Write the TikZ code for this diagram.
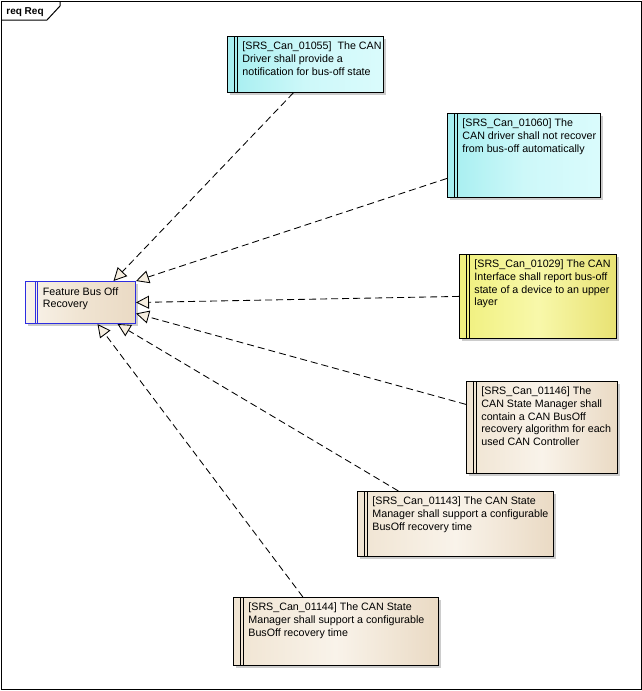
\documentclass[tikz,border=0pt]{standalone}
\usepackage{fontspec}
\setmainfont{Liberation Sans}
\usetikzlibrary{arrows.meta}
\definecolor{cyL}{RGB}{165,238,240}
\definecolor{cyM}{RGB}{205,248,249}
\definecolor{cyR}{RGB}{218,251,252}
\definecolor{geL}{RGB}{240,240,125}
\definecolor{geM}{RGB}{248,248,170}
\definecolor{geR}{RGB}{232,226,115}
\definecolor{beL}{RGB}{240,228,210}
\definecolor{beM}{RGB}{249,243,234}
\definecolor{beR}{RGB}{234,218,196}
\definecolor{tipfill}{RGB}{246,238,224}
\definecolor{featblue}{RGB}{45,45,225}
\tikzset{
  reqtext/.style={anchor=north west,inner sep=0pt,align=left,
    font=\fontsize{10.7}{12.7}\selectfont},
  trace/.style={->,dash pattern=on 7pt off 4pt,line width=0.85pt}
}
\def\anf#1#2#3#4#5#6#7{
\fill[color=gray!40] ({#2+3},{#3+3}) rectangle ++(#4,#5);
\node[draw,rectangle,anchor=north west,inner sep=0pt,
  minimum width=#4pt,minimum height=#5pt,
  left color=#6L,right color=#6R,middle color=#6M] (#1) at (#2,#3) {};
\draw ([xshift=7pt]#1.north west) -- ([xshift=7pt]#1.south west);
\draw ([xshift=10pt]#1.north west) -- ([xshift=10pt]#1.south west);
\node[reqtext] (#1t) at ([xshift=15pt,yshift=-5.5pt]#1.north west) {#7};
}

\begin{document}
\begin{tikzpicture}[x=1pt,y=-1pt,thick,
  >={Triangle[length=13pt,width=13pt,fill=tipfill,line width=0.85pt]}]
\useasboundingbox (0,0) rectangle (642,691);
\fill[white] (0,0) rectangle (642,691);
\draw[line width=1pt] (1,1) rectangle (641,689);
\draw[line width=1pt] (1,20) -- (47,20) -- (60,6) -- (60,1);
\node[font=\bfseries\fontsize{10}{12}\selectfont,anchor=base west,inner sep=0pt]
  (titel) at (6,14) {req Req};

\fill[color=gray!40] (28,284) rectangle ++(110,42);
\node[draw=featblue,line width=1pt,rectangle,anchor=north west,inner sep=0pt,
  minimum width=110pt,minimum height=42pt,
  left color=beM,right color=beR,middle color=beL] (feat) at (25,281) {};
\draw[featblue] ([xshift=10pt]feat.north west) -- ([xshift=10pt]feat.south west);
\draw[featblue] ([xshift=12pt]feat.north west) -- ([xshift=12pt]feat.south west);
\node[reqtext] (featt) at ([xshift=17.5pt,yshift=-6pt]feat.north west)
  {Feature Bus Off\\Recovery};

\anf{r1055}{227}{36}{156}{56}{cy}{[SRS\_Can\_01055]\ \ The CAN\\Driver shall provide a\\notification for bus-off state}
\anf{r1060}{447}{113}{153}{84}{cy}{[SRS\_Can\_01060] The\\CAN driver shall not recover\\from bus-off automatically}
\anf{r1029}{459}{254}{157}{84}{ge}{[SRS\_Can\_01029] The CAN\\Interface shall report bus-off\\state of a device to an upper\\layer}
\anf{r1146}{466}{381}{151}{92}{be}{[SRS\_Can\_01146] The\\CAN State Manager shall\\contain a CAN BusOff\\recovery algorithm for each\\used CAN Controller}
\anf{r1143}{357}{491}{196}{65}{be}{[SRS\_Can\_01143] The CAN State\\Manager shall support a configurable\\BusOff recovery time}
\anf{r1144}{233}{597}{205}{68}{be}{[SRS\_Can\_01144] The CAN State\\Manager shall support a configurable\\BusOff recovery time}

\draw[trace] ([xshift=-12pt]r1055.south) -- ([xshift=33pt]feat.north);
\draw[trace] ([yshift=-23pt]r1060.west) -- (feat.north east);
\draw[trace] (r1029.west) -- (feat.east);
\draw[trace] ([yshift=23pt]r1146.west) -- ([yshift=-11pt]feat.east);
\draw[trace] ([xshift=-57pt]r1143.north) -- ([xshift=37pt]feat.south);
\draw[trace] ([xshift=-33pt]r1144.north) -- ([xshift=17pt]feat.south);
\end{tikzpicture}
\end{document}
